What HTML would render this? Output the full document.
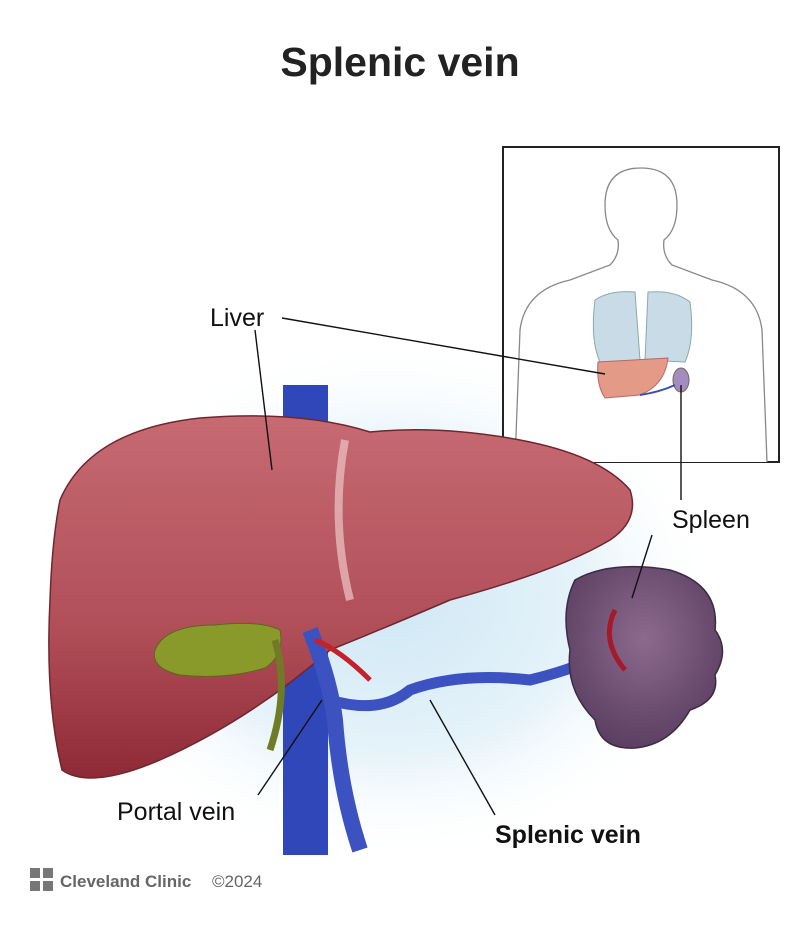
<!DOCTYPE html>
<html><head><meta charset="utf-8"><style>
html,body{margin:0;padding:0;background:#fff;}
body{width:800px;height:940px;overflow:hidden;position:relative;font-family:"Liberation Sans",Arial,sans-serif;}
</style></head><body>
<svg width="800" height="940" viewBox="0 0 800 940" xmlns="http://www.w3.org/2000/svg">
<defs>
<radialGradient id="glow" cx="0.5" cy="0.5" r="0.5">
<stop offset="0" stop-color="#cfe8f5"/><stop offset="0.6" stop-color="#e6f3fa"/><stop offset="1" stop-color="#fff" stop-opacity="0"/>
</radialGradient>
<linearGradient id="liv" x1="0" y1="0" x2="0" y2="1">
<stop offset="0" stop-color="#c76a72"/><stop offset="0.6" stop-color="#b04e58"/><stop offset="1" stop-color="#8e2a35"/>
</linearGradient>
<radialGradient id="spl" cx="0.5" cy="0.4" r="0.6">
<stop offset="0" stop-color="#8c6a8e"/><stop offset="1" stop-color="#5c3f62"/>
</radialGradient>
</defs>
<text x="400" y="76" text-anchor="middle" font-size="41" font-weight="bold" fill="#222">Splenic vein</text>
<ellipse cx="390" cy="600" rx="330" ry="260" fill="url(#glow)"/>
<!-- inset -->
<rect x="503" y="147" width="276" height="315" fill="#fff" stroke="#222" stroke-width="2"/>
<path d="M515 462 L520 330 Q525 290 570 280 L610 265 Q620 255 618 240 Q605 230 605 205 Q605 168 641 168 Q677 168 677 205 Q677 230 664 240 Q662 255 672 265 L712 280 Q757 290 762 330 L767 462" fill="#fff" stroke="#888" stroke-width="1.3"/>
<path d="M595 300 Q610 290 635 292 L640 360 L600 362 Q590 340 595 300Z M648 292 Q675 290 690 302 Q695 340 685 362 L645 360Z" fill="#c9dbe6" stroke="#8aa" stroke-width="1"/>
<path d="M598 362 L668 358 Q665 385 640 395 L605 398 Q596 385 598 362Z" fill="#e39a86" stroke="#b66" stroke-width="1"/>
<ellipse cx="681" cy="380" rx="8" ry="12" fill="#a58cc0" stroke="#765" stroke-width="1"/>
<path d="M640 395 Q660 392 675 385" stroke="#3a4fb0" stroke-width="2" fill="none"/>
<!-- IVC -->
<rect x="283" y="385" width="45" height="470" fill="#2f47b8"/>
<!-- liver -->
<path d="M60 500 Q90 430 200 418 Q300 410 370 432 Q440 425 520 440 Q600 455 630 490 Q640 520 610 540 Q560 570 450 600 Q380 630 330 650 Q250 720 160 760 Q90 790 62 770 Q45 700 50 600 Q52 540 60 500Z" fill="url(#liv)" stroke="#6e2730" stroke-width="1.5"/>
<path d="M345 440 Q330 520 350 600" stroke="#e6b9bb" stroke-width="8" fill="none" opacity="0.8"/>
<!-- gallbladder -->
<path d="M155 650 Q165 625 215 625 Q260 620 280 630 Q285 655 265 668 Q225 680 180 675 Q150 668 155 650Z" fill="#8a9a2a" stroke="#5b6620"/>
<path d="M275 640 Q290 690 270 750" stroke="#6f7c25" stroke-width="7" fill="none"/>
<!-- portal & splenic vein -->
<path d="M310 630 Q330 680 335 720 Q340 790 360 850" stroke="#3c52c0" stroke-width="16" fill="none"/>
<path d="M330 700 Q380 715 410 690 Q460 672 530 680 Q570 670 590 660 Q610 650 630 640" stroke="#3c52c0" stroke-width="11" fill="none"/>
<path d="M315 640 Q340 650 370 680" stroke="#c6202a" stroke-width="5" fill="none"/>
<!-- spleen -->
<path d="M575 580 Q610 560 670 570 Q720 585 715 630 Q730 650 715 675 Q720 700 690 710 Q670 745 635 748 Q600 750 595 720 Q565 690 570 650 Q560 610 575 580Z" fill="url(#spl)" stroke="#3d2a44" stroke-width="1.5"/>
<path d="M615 610 Q600 640 625 670" stroke="#a51a2a" stroke-width="5" fill="none"/>
<!-- leaders -->
<g stroke="#111" stroke-width="1.4" fill="none">
<line x1="282" y1="318" x2="605" y2="374"/>
<line x1="255" y1="330" x2="272" y2="470"/>
<polyline points="681,385 681,500"/>
<line x1="652" y1="535" x2="632" y2="598"/>
<line x1="258" y1="795" x2="322" y2="700"/>
<line x1="495" y1="815" x2="430" y2="700"/>
</g>
<g font-size="25" fill="#111">
<text x="210" y="326">Liver</text>
<text x="672" y="528">Spleen</text>
<text x="117" y="820">Portal vein</text>
<text x="495" y="843" font-weight="bold">Splenic vein</text>
</g>
<!-- logo -->
<g fill="#777"><rect x="30" y="868" width="10" height="10"/><rect x="43" y="868" width="10" height="10"/><rect x="30" y="881" width="10" height="10"/><rect x="43" y="881" width="10" height="10"/></g>
<text x="60" y="887" font-size="17" font-weight="bold" fill="#666">Cleveland Clinic</text>
<text x="212" y="887" font-size="17" fill="#666">©2024</text>
</svg>
</body></html>
